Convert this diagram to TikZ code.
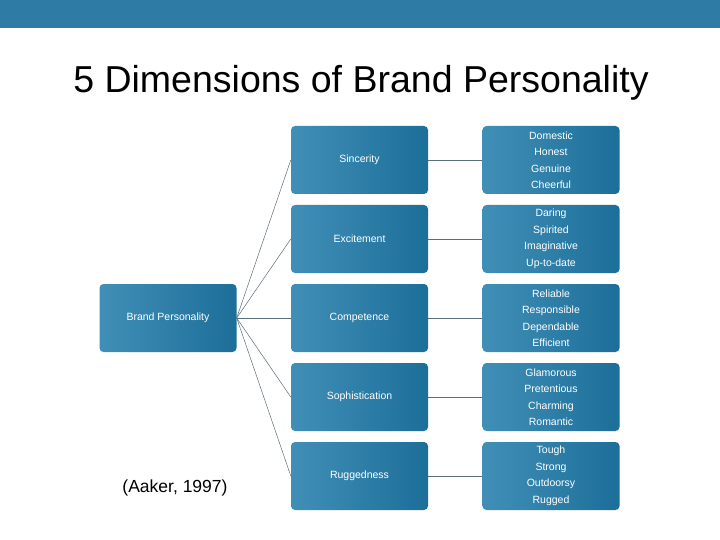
\documentclass[tikz,border=0pt]{standalone}
\usepackage{fontspec}
\setmainfont{Liberation Sans}
\definecolor{boxc}{HTML}{1F7BAA}
\definecolor{barc}{HTML}{2E7BA6}
\definecolor{linec}{HTML}{5A6E7A}
\begin{document}
\begin{tikzpicture}[x=1pt,y=-1pt,
  bx/.style={rounded corners=4pt,left color=boxc!85!white,right color=boxc!90!black,draw=none,minimum width=137pt,minimum height=68pt,text=white,font=\fontsize{10.5}{12}\selectfont,align=center,inner sep=0pt},
  ln/.style={draw=linec,line width=0.5pt}]
\useasboundingbox (0,0) rectangle (720,540);
\fill[white] (0,0) rectangle (720,540);
\fill[barc] (0,0) rectangle (720,28);
\node[font=\fontsize{37.5}{44}\selectfont] (title) at (361,83) {5 Dimensions of Brand Personality};
\node[bx] (bp) at (168,318) {Brand Personality};
\node[font=\fontsize{17.5}{20}\selectfont] (ref) at (175,488) {(Aaker, 1997)};
\foreach \n/\t/\a/\b/\c/\d [count=\i from 0] in {
 s/Sincerity/Domestic/Honest/Genuine/Cheerful,
 e/Excitement/Daring/Spirited/Imaginative/Up-to-date,
 c/Competence/Reliable/Responsible/Dependable/Efficient,
 so/Sophistication/Glamorous/Pretentious/Charming/Romantic,
 r/Ruggedness/Tough/Strong/Outdoorsy/Rugged}{
 \pgfmathsetmacro\yy{160+79*\i}
 \node[bx] (m\n) at (359.5,\yy) {\t};
 \node[bx,font=\fontsize{10.5}{16.5}\selectfont] (d\n) at (551,\yy) {\a\\\b\\\c\\\d};
 \draw[ln] (bp.east) -- (m\n.west);
 \draw[ln] (m\n.east) -- (d\n.west);
}
\end{tikzpicture}
\end{document}
